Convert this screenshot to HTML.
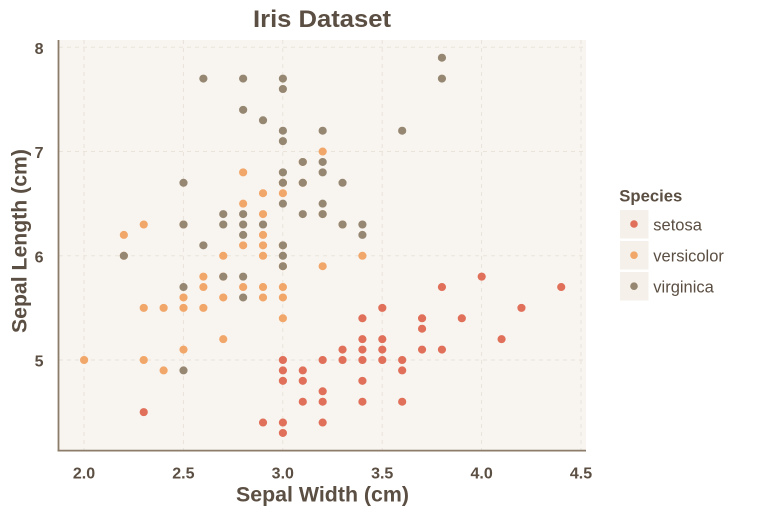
<!DOCTYPE html>
<html><head><meta charset="utf-8"><style>
html,body{margin:0;padding:0;background:#fff;}
svg{display:block;}
text{font-family:"Liberation Sans",Arial,sans-serif;fill:#5b4e42;}
</style></head><body>
<svg width="768" height="512" viewBox="0 0 768 512" xmlns="http://www.w3.org/2000/svg">
<rect x="59" y="40" width="527" height="411" fill="#f8f5f0"/>
<g stroke="#e9e3da" stroke-width="1" stroke-dasharray="4 4" fill="none">
<line x1="59" x2="586" y1="47.3" y2="47.3"/>
<line x1="59" x2="586" y1="151.5" y2="151.5"/>
<line x1="59" x2="586" y1="255.8" y2="255.8"/>
<line x1="59" x2="586" y1="360" y2="360"/>
<line x1="84" x2="84" y1="40" y2="451"/>
<line x1="183.4" x2="183.4" y1="40" y2="451"/>
<line x1="282.8" x2="282.8" y1="40" y2="451"/>
<line x1="382.2" x2="382.2" y1="40" y2="451"/>
<line x1="481.6" x2="481.6" y1="40" y2="451"/>
<line x1="581" x2="581" y1="40" y2="451"/>
</g>
<g transform="matrix(198.8 0 0 -104.23 -313.6 881.15)" fill="none" stroke-linecap="round">
<path vector-effect="non-scaling-stroke" stroke="#e0705a" stroke-width="8" d="M3.5 5.1h.001M3.0 4.9h.001M3.2 4.7h.001M3.1 4.6h.001M3.6 5.0h.001M3.9 5.4h.001M3.4 4.6h.001M3.4 5.0h.001M2.9 4.4h.001M3.1 4.9h.001M3.7 5.4h.001M3.4 4.8h.001M3.0 4.8h.001M3.0 4.3h.001M4.0 5.8h.001M4.4 5.7h.001M3.9 5.4h.001M3.5 5.1h.001M3.8 5.7h.001M3.8 5.1h.001M3.4 5.4h.001M3.7 5.1h.001M3.6 4.6h.001M3.3 5.1h.001M3.4 4.8h.001M3.0 5.0h.001M3.4 5.0h.001M3.5 5.2h.001M3.4 5.2h.001M3.2 4.7h.001M3.1 4.8h.001M3.4 5.4h.001M4.1 5.2h.001M4.2 5.5h.001M3.1 4.9h.001M3.2 5.0h.001M3.5 5.5h.001M3.6 4.9h.001M3.0 4.4h.001M3.4 5.1h.001M3.5 5.0h.001M2.3 4.5h.001M3.2 4.4h.001M3.5 5.0h.001M3.8 5.1h.001M3.0 4.8h.001M3.8 5.1h.001M3.2 4.6h.001M3.7 5.3h.001M3.3 5.0h.001"/>
<path vector-effect="non-scaling-stroke" stroke="#f2a76a" stroke-width="8" d="M3.2 7.0h.001M3.2 6.4h.001M3.1 6.9h.001M2.3 5.5h.001M2.8 6.5h.001M2.8 5.7h.001M3.3 6.3h.001M2.4 4.9h.001M2.9 6.6h.001M2.7 5.2h.001M2.0 5.0h.001M3.0 5.9h.001M2.2 6.0h.001M2.9 6.1h.001M2.9 5.6h.001M3.1 6.7h.001M3.0 5.6h.001M2.7 5.8h.001M2.2 6.2h.001M2.5 5.6h.001M3.2 5.9h.001M2.8 6.1h.001M2.5 6.3h.001M2.8 6.1h.001M2.9 6.4h.001M3.0 6.6h.001M2.8 6.8h.001M3.0 6.7h.001M2.9 6.0h.001M2.6 5.7h.001M2.4 5.5h.001M2.4 5.5h.001M2.7 5.8h.001M2.7 6.0h.001M3.0 5.4h.001M3.4 6.0h.001M3.1 6.7h.001M2.3 6.3h.001M3.0 5.6h.001M2.5 5.5h.001M2.6 5.5h.001M3.0 6.1h.001M2.6 5.8h.001M2.3 5.0h.001M2.7 5.6h.001M3.0 5.7h.001M2.9 5.7h.001M2.9 6.2h.001M2.5 5.1h.001M2.8 5.7h.001"/>
<path vector-effect="non-scaling-stroke" stroke="#968772" stroke-width="8" d="M3.3 6.3h.001M2.7 5.8h.001M3.0 7.1h.001M2.9 6.3h.001M3.0 6.5h.001M3.0 7.6h.001M2.5 4.9h.001M2.9 7.3h.001M2.5 6.7h.001M3.6 7.2h.001M3.2 6.5h.001M2.7 6.4h.001M3.0 6.8h.001M2.5 5.7h.001M2.8 5.8h.001M3.2 6.4h.001M3.0 6.5h.001M3.8 7.7h.001M2.6 7.7h.001M2.2 6.0h.001M3.2 6.9h.001M2.8 5.6h.001M2.8 7.7h.001M2.7 6.3h.001M3.3 6.7h.001M3.2 7.2h.001M2.8 6.2h.001M3.0 6.1h.001M2.8 6.4h.001M3.0 7.2h.001M2.8 7.4h.001M3.8 7.9h.001M2.8 6.4h.001M2.8 6.3h.001M2.6 6.1h.001M3.0 7.7h.001M3.4 6.3h.001M3.1 6.4h.001M3.0 6.0h.001M3.1 6.9h.001M3.1 6.7h.001M3.1 6.9h.001M2.7 5.8h.001M3.2 6.8h.001M3.3 6.7h.001M3.0 6.7h.001M2.5 6.3h.001M3.0 6.5h.001M3.4 6.2h.001M3.0 5.9h.001"/>
</g>
<g stroke="#8c7c6a" stroke-width="1.8" fill="none">
<line x1="58.5" x2="58.5" y1="40" y2="451.5"/>
<line x1="57.6" x2="586" y1="450.6" y2="450.6"/>
</g>
<g font-size="16" font-weight="bold" text-anchor="middle">
<text x="84" y="478.3">2.0</text>
<text x="183.4" y="478.3">2.5</text>
<text x="282.8" y="478.3">3.0</text>
<text x="382.2" y="478.3">3.5</text>
<text x="481.6" y="478.3">4.0</text>
<text x="581" y="478.3">4.5</text>
</g>
<g font-size="16" font-weight="bold" text-anchor="end">
<text x="43.5" y="54">8</text>
<text x="43.5" y="158">7</text>
<text x="43.5" y="262.3">6</text>
<text x="43.5" y="366.5">5</text>
</g>
<text x="322" y="27" font-size="24" font-weight="bold" text-anchor="middle" textLength="138" lengthAdjust="spacingAndGlyphs">Iris Dataset</text>
<text x="322.5" y="501.7" font-size="21" font-weight="bold" text-anchor="middle" textLength="173" lengthAdjust="spacingAndGlyphs">Sepal Width (cm)</text>
<text transform="translate(26.5 241) rotate(-90)" font-size="21" font-weight="bold" text-anchor="middle" textLength="184" lengthAdjust="spacingAndGlyphs">Sepal Length (cm)</text>
<text x="619.3" y="201.5" font-size="16.5" font-weight="bold" textLength="63" lengthAdjust="spacingAndGlyphs">Species</text>
<g fill="#f5f0e9">
<rect x="620" y="210" width="28.5" height="28.5"/>
<rect x="620" y="241" width="28.5" height="28.5"/>
<rect x="620" y="272" width="28.5" height="28.5"/>
</g>
<circle cx="634" cy="224" r="3.8" fill="#e0705a"/>
<circle cx="634" cy="255.2" r="3.8" fill="#f2a76a"/>
<circle cx="634" cy="286.2" r="3.8" fill="#968772"/>
<g font-size="16.5">
<text x="653.3" y="230.5">setosa</text>
<text x="653.3" y="261.5">versicolor</text>
<text x="653.3" y="292.5">virginica</text>
</g>
</svg>
</body></html>
